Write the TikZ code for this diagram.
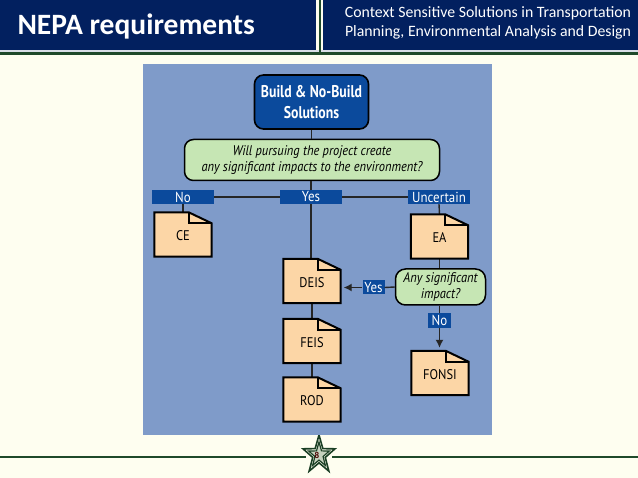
\documentclass[tikz,border=0pt]{standalone}
\usepackage{fontspec}
\setmainfont{Carlito}
\newfontfamily\dia[FakeStretch=0.89]{PT Sans}
\newfontfamily\diab[FakeStretch=0.81]{PT Sans}
\usetikzlibrary{calc,shapes.geometric,arrows.meta}
\definecolor{navy}{HTML}{02205F}
\definecolor{paper}{HTML}{FEFEF0}
\definecolor{rulegreen}{HTML}{1F4A2A}
\definecolor{panel}{HTML}{7F9BC9}
\definecolor{bluebox}{HTML}{0B4A9C}
\definecolor{greenbox}{HTML}{C6E6B4}
\definecolor{peach}{HTML}{FCD6A6}
\tikzset{
  headbox/.style={fill=navy,draw=none,inner sep=0pt,anchor=north west},
  docbox/.style={minimum width=57pt,minimum height=44pt,inner sep=0pt},
  docline/.style={draw=black,line width=2pt,fill=peach,line join=miter},
  tagbox/.style={fill=bluebox,draw=none,inner sep=0pt,text=white,font=\dia\fontsize{14.5}{15}\selectfont},
  link/.style={draw=black!85,line width=1.4pt},
  arrowlink/.style={link,-{Latex[length=8pt,width=8pt]},shorten >=3pt},
  question/.style={fill=greenbox,draw=black,line width=1.5pt,rounded corners=9pt,inner sep=0pt,align=center,font=\dia\itshape\fontsize{14}{16}\selectfont},
  starshape/.style={star,star points=5,star point ratio=2.55,inner sep=0pt,fill=paper,draw=rulegreen!85!black,xscale=0.84},
}
\newcommand{\docoutline}[1]{%
  \draw[docline] (#1.north west) -- ($(#1.north east)+(-23,0)$) -- ($(#1.north east)+(0,11)$) -- (#1.south east) -- (#1.south west) -- cycle;
  \draw[draw=black,line width=2pt,line join=miter] ($(#1.north east)+(-23,0)$) -- ($(#1.north east)+(-23,11)$) -- ($(#1.north east)+(0,11)$);
  \node[font=\dia\fontsize{14}{15}\selectfont] at ($(#1.center)+(0,1.5)$) {\docname};
}
\begin{document}
\begin{tikzpicture}[x=1pt,y=-1pt]
\useasboundingbox (0,0) rectangle (638,478);
\fill[paper] (0,0) rectangle (638,478);
% header
\node[headbox,minimum width=316pt,minimum height=50pt] (hl) at (0,0) {};
\node[headbox,minimum width=315pt,minimum height=50pt] (hr) at (323,0) {};
\fill[white!85!navy] (0,50) rectangle (638,52);
\fill[rulegreen] (0,52.5) rectangle (638,55);
\coordinate (sepT) at (319.5,0);
\coordinate (sepB) at (319.5,53);
\draw[rulegreen,line width=2pt] (sepT) -- (sepB);
\node[text=white,font=\bfseries\fontsize{29.5}{32}\selectfont,anchor=west] (title) at (14,26) {NEPA requirements};
\node[text=white,font=\fontsize{15.8}{19}\selectfont,align=center,anchor=center] (sub) at (488,22.5) {Context Sensitive Solutions in Transportation\\Planning, Environmental Analysis and Design};
% footer
\coordinate (fl) at (0,457);
\coordinate (fr) at (638,457);
\coordinate (flend) at (306,457);
\coordinate (frstart) at (332,457);
\draw[rulegreen,line width=1.3pt] (fl) -- (flend);
\draw[rulegreen,line width=1.3pt] (frstart) -- (fr);
\node[starshape,minimum size=40pt,line width=1.6pt] (starO) at (319,455) {};
\node[starshape,minimum size=26pt,line width=1.2pt,fill=paper!75!rulegreen] (starI) at (319,455) {};
\node[text=black!70!red,font=\bfseries\fontsize{9}{9}\selectfont] (num) at (317,455) {8};
% panel
\fill[panel] (143,64) rectangle (492,435);
% nodes
\node[fill=bluebox,draw=black,line width=1.6pt,rounded corners=9pt,minimum width=114pt,minimum height=54pt,inner sep=0pt,align=center,text=white,font=\diab\bfseries\fontsize{17}{21}\selectfont] (build) at (311.5,102) {Build \& No-Build\\Solutions};
\node[question,minimum width=255pt,minimum height=41pt] (will) at (312,160) {Will pursuing the project create\\any significant impacts to the environment?};
\node[tagbox,minimum width=62pt,minimum height=14pt] (tno) at (183,197) {No};
\node[tagbox,minimum width=62pt,minimum height=14pt] (tyes) at (311,197) {Yes};
\node[tagbox,minimum width=62pt,minimum height=14pt] (tunc) at (439,197) {Uncertain};
\node[docbox] (ce) at (183,234.5) {};
\node[docbox] (ea) at (439.5,236.5) {};
\node[docbox] (deis) at (312,281) {};
\node[docbox] (feis) at (312,341) {};
\node[docbox] (rod) at (312,399.5) {};
\node[docbox] (fonsi) at (440,373) {};
\node[question,minimum width=90pt,minimum height=36pt,rounded corners=10pt] (any) at (440.5,287) {Any significant\\impact?};
\node[tagbox,minimum width=22pt,minimum height=14pt] (ayes) at (373.5,287.5) {Yes};
\node[tagbox,minimum width=23pt,minimum height=15pt] (ano) at (439.5,320.5) {No};
% connectors
\draw[link] (build.south) -- (build.south |- will.north);
\draw[link] (will.south -| tyes) -- (tyes.north);
\draw[link] (tno.east) -- (tyes.west);
\draw[link] (tyes.east) -- (tunc.west);
\draw[link] (tno.south) -- (ce.north);
\draw[link] (tunc.south) -- (ea.north);
\draw[link] (tyes.south) -- (deis.north -| tyes);
\draw[link] (deis.south) -- (feis.north);
\draw[link] (feis.south) -- (rod.north);
\draw[link] (ea.south) -- (any.north -| ea);
\draw[link] (any.west) -- (ayes.east);
\draw[arrowlink] (ayes.west) -- (ayes.west -| deis.east);
\draw[link] (any.south -| ano) -- (ano.north);
\draw[arrowlink] (ano.south) -- (fonsi.north -| ano);
% document outlines
\def\docname{CE}\docoutline{ce}
\def\docname{EA}\docoutline{ea}
\def\docname{DEIS}\docoutline{deis}
\def\docname{FEIS}\docoutline{feis}
\def\docname{ROD}\docoutline{rod}
\def\docname{FONSI}\docoutline{fonsi}
\end{tikzpicture}
\end{document}
